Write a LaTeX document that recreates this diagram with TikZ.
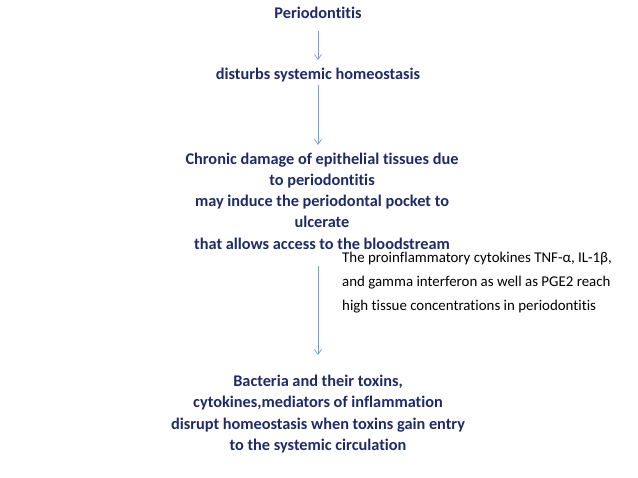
\documentclass[tikz,border=0pt]{standalone}
\usepackage{fontspec}
\setmainfont{Carlito}[RawFeature={-liga;-calt;-clig}]
\usetikzlibrary{arrows.meta}
\definecolor{navy}{HTML}{1F2A66}
\definecolor{arr}{HTML}{7F9CCB}
\tikzset{
 hd/.style={font=\fontsize{16.3}{21.2}\selectfont\bfseries, text=navy, align=center, inner sep=0pt},
 side/.style={font=\fontsize{14.9}{24}\selectfont, text=black, align=left, inner sep=0pt, anchor=north west},
 conn/.style={draw=arr, line width=0.7pt, -{Straight Barb[length=5pt,width=7pt]}}
}
\begin{document}
\begin{tikzpicture}[x=1pt,y=-1pt]
\useasboundingbox (0,0) rectangle (638,478);
\node[hd] (p) at (318,13) {Periodontitis};
\node[hd] (d) at (318,75) {disturbs systemic homeostasis};
\node[hd] (c) at (322,201) {Chronic damage of epithelial tissues due\\to periodontitis\\may induce the periodontal pocket to\\ulcerate\\that allows access to the bloodstream};
\node[hd] (b) at (318,414) {Bacteria and their toxins,\\cytokines,mediators of inflammation\\disrupt homeostasis when toxins gain entry\\to the systemic circulation};
\node[side] (s) at (342,252) {The proinflammatory cytokines TNF-α, IL-1β,\\and gamma interferon as well as PGE2 reach\\high tissue concentrations in periodontitis};
\coordinate (a1) at (318,31); \coordinate (a2) at (318,60);
\coordinate (a3) at (318,85); \coordinate (a4) at (318,145);
\coordinate (a5) at (318,266); \coordinate (a6) at (318,355);
\draw[conn] (a1) -- (a2);
\draw[conn] (a3) -- (a4);
\draw[conn] (a5) -- (a6);
\end{tikzpicture}
\end{document}
